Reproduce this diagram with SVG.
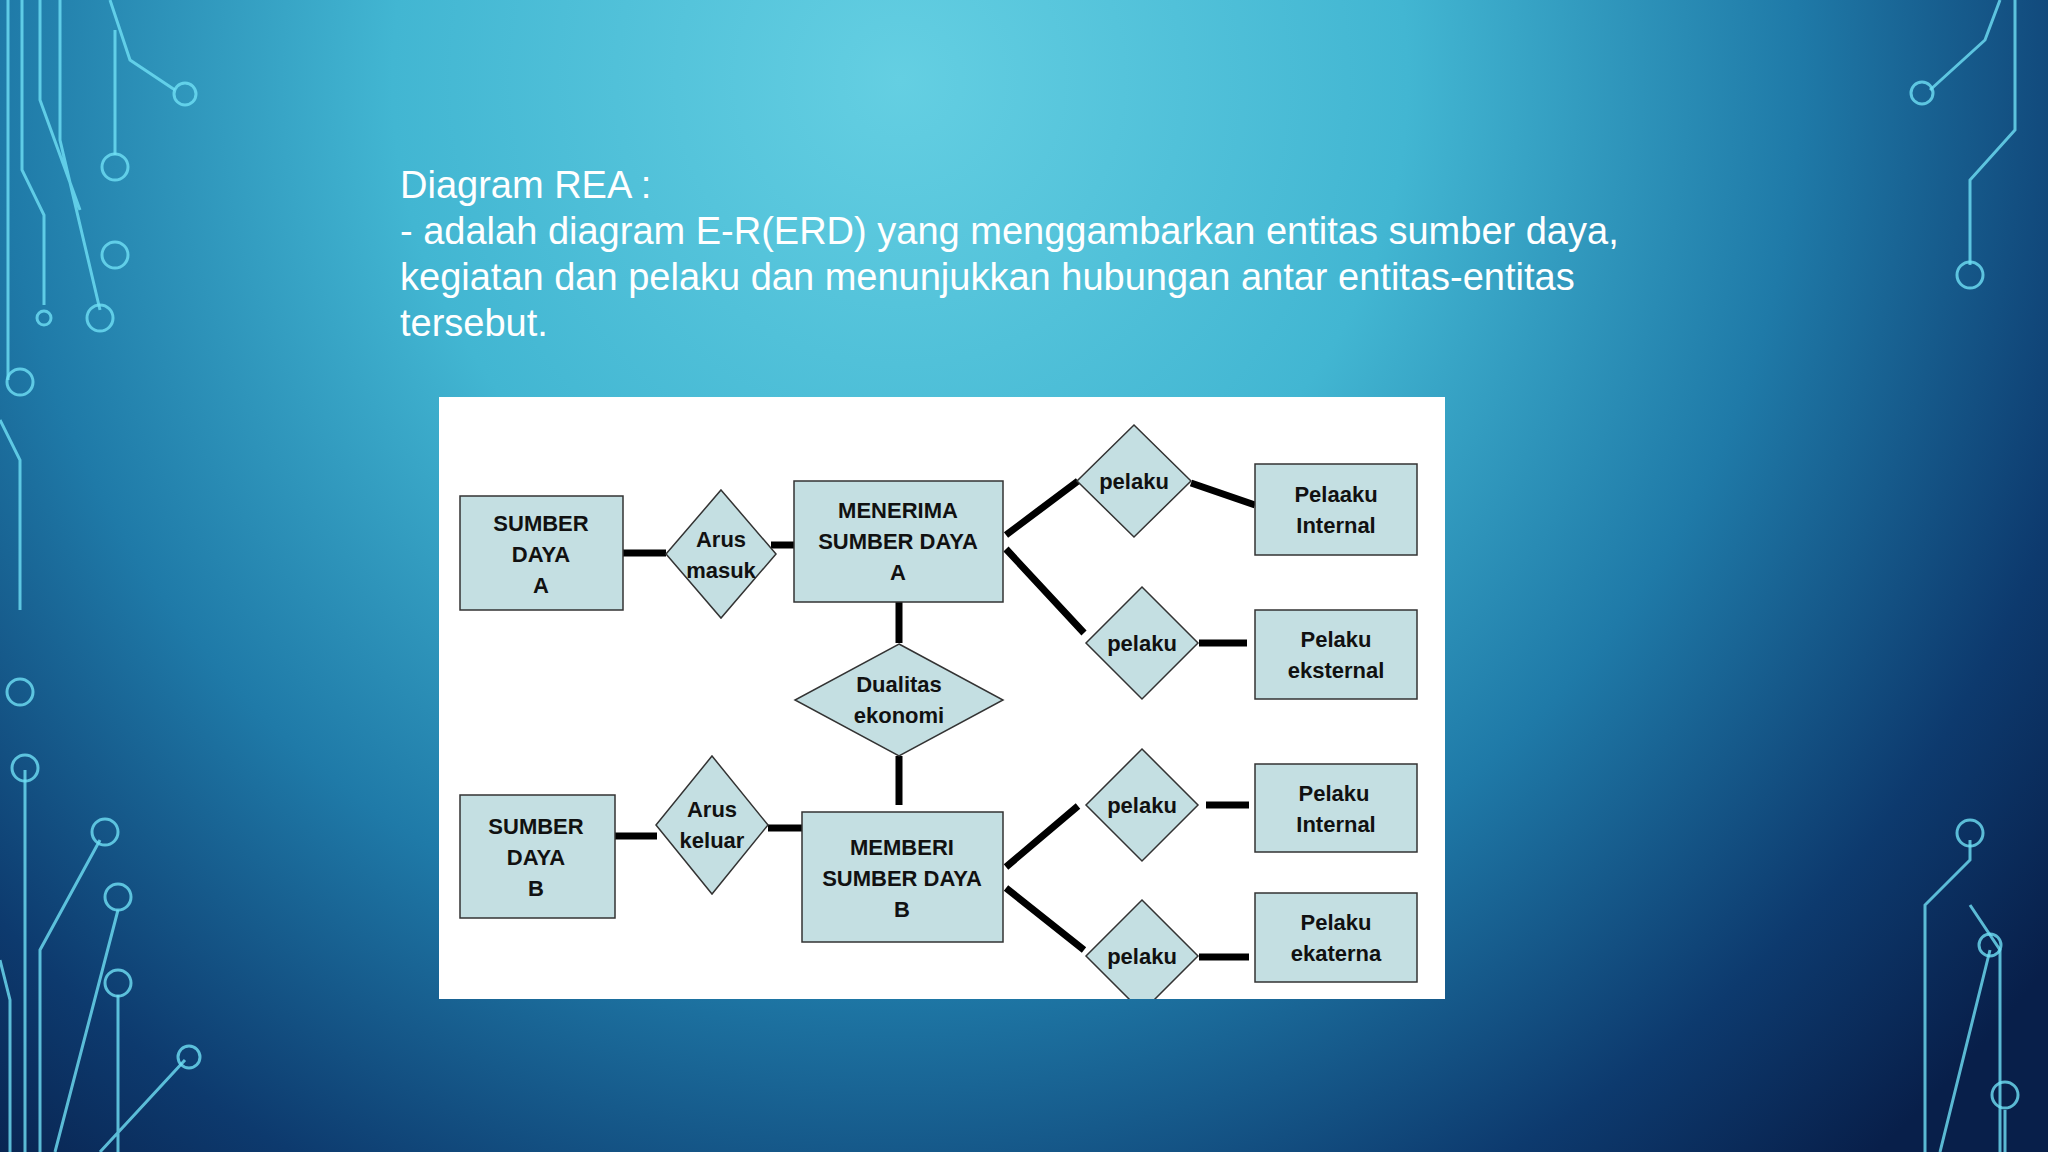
<svg xmlns="http://www.w3.org/2000/svg" width="2048" height="1152" viewBox="0 0 2048 1152">
<defs>
<radialGradient id="bg" cx="900" cy="80" r="1450" gradientUnits="userSpaceOnUse">
<stop offset="0" stop-color="#64cfe2"/>
<stop offset="0.35" stop-color="#42b6d2"/>
<stop offset="0.62" stop-color="#1f7aa8"/>
<stop offset="0.85" stop-color="#0d3a6e"/>
<stop offset="1" stop-color="#081f4a"/>
</radialGradient>
<clipPath id="panel"><rect x="439" y="397" width="1006" height="602"/></clipPath>
<style>
.ent{fill:#c4dfe2;stroke:#333;stroke-width:1.5}
.t{font-family:"Liberation Sans",Arial,sans-serif;font-weight:bold;font-size:22px;fill:#111;text-anchor:middle}
.c{stroke:#000;stroke-width:7;fill:none}
.cir{stroke:#6fe0f5;stroke-width:3;fill:none;opacity:0.8}
.h{font-family:"Liberation Sans",Arial,sans-serif;font-size:38px;fill:#fff}
</style>
</defs>
<rect width="2048" height="1152" fill="url(#bg)"/>
<g id="circuit">
<path class="cir" d="M8 0V380M22 0V170L44 215V305M40 0V100L80 210M60 0V140L100 310M110 0L130 60L175 90M115 30V155M20 610V460L0 420M25 1152V770M0 960L10 1000V1152M40 1152V950L100 840M55 1152L118 910M118 995V1152M100 1152L185 1060M2000 0L1985 40L1930 90M2015 0V130L1970 180V265M2000 1152V950L1970 905M1925 1152V905L1970 860V840M1940 1152L1990 950M2005 1152V1110"/>
<circle class="cir" cx="185" cy="94" r="11"/><circle class="cir" cx="115" cy="167" r="13"/><circle class="cir" cx="115" cy="255" r="13"/><circle class="cir" cx="100" cy="318" r="13"/><circle class="cir" cx="44" cy="318" r="7"/><circle class="cir" cx="20" cy="382" r="13"/><circle class="cir" cx="20" cy="692" r="13"/><circle class="cir" cx="25" cy="768" r="13"/><circle class="cir" cx="105" cy="832" r="13"/><circle class="cir" cx="118" cy="897" r="13"/><circle class="cir" cx="118" cy="983" r="13"/><circle class="cir" cx="189" cy="1057" r="11"/>
<circle class="cir" cx="1922" cy="93" r="11"/><circle class="cir" cx="1970" cy="275" r="13"/><circle class="cir" cx="1970" cy="833" r="13"/><circle class="cir" cx="1990" cy="945" r="11"/><circle class="cir" cx="2005" cy="1095" r="13"/>
</g>
<text class="h" x="400" y="198">Diagram REA :</text>
<text class="h" x="400" y="244">- adalah diagram E-R(ERD) yang menggambarkan entitas sumber daya,</text>
<text class="h" x="400" y="290">kegiatan dan pelaku dan menunjukkan hubungan antar entitas-entitas</text>
<text class="h" x="400" y="336">tersebut.</text>
<rect x="439" y="397" width="1006" height="602" fill="#fff"/>
<g id="connectors">
<path class="c" d="M623 553H666M771 545H794M1006 535L1078 481M1191 483L1255 505M1006 549L1084 633M1199 643H1247M899 602V643M899 756V805M615 836H657M768 828H812M1006 867L1078 806M1206 805H1249M1006 888L1084 950M1199 957H1249"/>
</g>
<g id="sdA"><rect class="ent" x="460" y="496" width="163" height="114"/><text class="t" x="541" y="531">SUMBER</text><text class="t" x="541" y="562">DAYA</text><text class="t" x="541" y="593">A</text></g>
<g id="arusMasuk"><polygon class="ent" points="721,490 776,554 721,618 666,554"/><text class="t" x="721" y="547">Arus</text><text class="t" x="721" y="578">masuk</text></g>
<g id="menerima"><rect class="ent" x="794" y="481" width="209" height="121"/><text class="t" x="898" y="518">MENERIMA</text><text class="t" x="898" y="549">SUMBER DAYA</text><text class="t" x="898" y="580">A</text></g>
<g id="pelaku1"><polygon class="ent" points="1134,425 1191,481 1134,537 1077,481"/><text class="t" x="1134" y="489">pelaku</text></g>
<g id="pelaakuInternal"><rect class="ent" x="1255" y="464" width="162" height="91"/><text class="t" x="1336" y="502">Pelaaku</text><text class="t" x="1336" y="533">Internal</text></g>
<g id="pelaku2"><polygon class="ent" points="1142,587 1198,643 1142,699 1086,643"/><text class="t" x="1142" y="651">pelaku</text></g>
<g id="pelakuEksternal"><rect class="ent" x="1255" y="610" width="162" height="89"/><text class="t" x="1336" y="647">Pelaku</text><text class="t" x="1336" y="678">eksternal</text></g>
<g id="dualitas"><polygon class="ent" points="899,644 1003,700 899,756 795,700"/><text class="t" x="899" y="692">Dualitas</text><text class="t" x="899" y="723">ekonomi</text></g>
<g id="sdB"><rect class="ent" x="460" y="795" width="155" height="123"/><text class="t" x="536" y="834">SUMBER</text><text class="t" x="536" y="865">DAYA</text><text class="t" x="536" y="896">B</text></g>
<g id="arusKeluar"><polygon class="ent" points="712,756 768,825 712,894 656,825"/><text class="t" x="712" y="817">Arus</text><text class="t" x="712" y="848">keluar</text></g>
<g id="memberi"><rect class="ent" x="802" y="812" width="201" height="130"/><text class="t" x="902" y="855">MEMBERI</text><text class="t" x="902" y="886">SUMBER DAYA</text><text class="t" x="902" y="917">B</text></g>
<g id="pelaku3"><polygon class="ent" points="1142,749 1198,805 1142,861 1086,805"/><text class="t" x="1142" y="813">pelaku</text></g>
<g id="pelakuInternal"><rect class="ent" x="1255" y="764" width="162" height="88"/><text class="t" x="1334" y="801">Pelaku</text><text class="t" x="1336" y="832">Internal</text></g>
<g id="pelaku4" clip-path="url(#panel)"><polygon class="ent" points="1142,900 1198,956 1142,1012 1086,956"/><text class="t" x="1142" y="964">pelaku</text></g>
<g id="pelakuEkaterna"><rect class="ent" x="1255" y="893" width="162" height="89"/><text class="t" x="1336" y="930">Pelaku</text><text class="t" x="1336" y="961">ekaterna</text></g>
</svg>
